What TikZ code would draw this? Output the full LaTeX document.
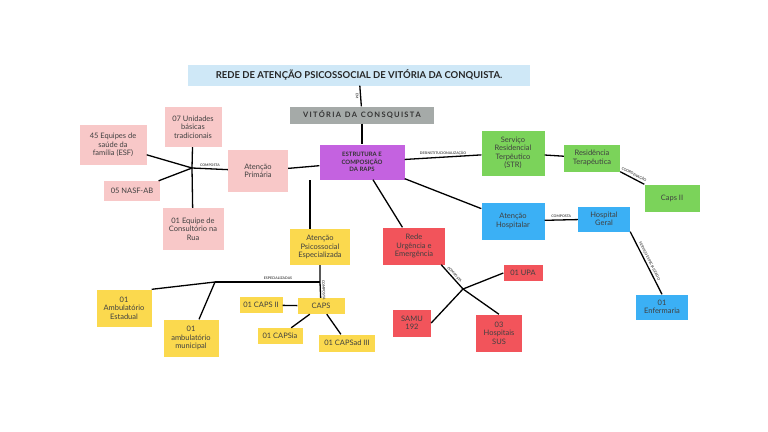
\documentclass[tikz,border=0pt]{standalone}
\usepackage{fontspec}
\setmainfont{Lato}
\begin{document}
\begin{tikzpicture}[x=1pt,y=-1pt,
 bx/.style={minimum width=#1, inner sep=1pt, align=center, font=\fontsize{7.5}{8.5}\selectfont, text=black!75},
 pk/.style={fill=pinkc},gr/.style={fill=greenc},bl/.style={fill=bluec},ye/.style={fill=yelc},rd/.style={fill=redc},
 ln/.style={line width=1.3pt},
 lab/.style={font=\fontsize{3.5}{4}\selectfont\bfseries, text=black!70, inner sep=1.5pt}]
\definecolor{pinkc}{HTML}{F8C8C8}\definecolor{greenc}{HTML}{7BD35A}\definecolor{bluec}{HTML}{3BB0F5}
\definecolor{yelc}{HTML}{FBD94E}\definecolor{redc}{HTML}{F2545B}\definecolor{purc}{HTML}{C462E0}
\definecolor{titc}{HTML}{CFE8F7}\definecolor{grayc}{HTML}{A5AAA8}
\useasboundingbox (0,0) rectangle (768,431);
\fill[white] (0,0) rectangle (768,431);
\node[bx=342pt, minimum height=21pt, fill=titc, font=\fontsize{9.5}{10}\selectfont\bfseries, text=black!85] (tit) at (359,75) {REDE DE ATENÇÃO PSICOSSOCIAL DE VITÓRIA DA CONQUISTA.};
\node[bx=144pt, minimum height=17pt, fill=grayc, font=\fontsize{7.5}{8}\selectfont\bfseries, text=black!80] (vit) at (362,115) {V\,I\,T\,Ó\,R\,I\,A\; D\,A\; C\,O\,N\,S\,Q\,U\,I\,S\,T\,A};
\node[bx=85pt, minimum height=35pt, fill=purc, font=\fontsize{6}{7.5}\selectfont\bfseries, text=black!80] (est) at (362,162) {ESTRUTURA E\\COMPOSIÇÃO\\DA RAPS};
\node[bx=60pt, minimum height=42pt, pk] (ap) at (258,171) {Atenção\\Primária};
\node[bx=57pt, minimum height=40pt, pk] (u07) at (193,127) {07 Unidades\\básicas\\tradicionais};
\node[bx=67pt, minimum height=40pt, pk] (e45) at (113,145) {45 Equipes de\\saúde da\\família (ESF)};
\node[bx=56pt, minimum height=20pt, pk] (nasf) at (132,191) {05 NASF-AB};
\node[bx=61pt, minimum height=42pt, pk] (cr) at (193,229) {01 Equipe de\\Consultório na\\Rua};
\coordinate (hp) at (192,168);
\node[bx=63pt, minimum height=45pt, gr] (str) at (513,153) {Serviço\\Residencial\\Terpêutico\\(STR)};
\node[bx=56pt, minimum height=27pt, gr] (res) at (592,158) {Residência\\Terapêutica};
\node[bx=55pt, minimum height=27pt, gr] (c2) at (672,198) {Caps II};
\node[bx=63pt, minimum height=37pt, bl] (ah) at (513,221) {Atenção\\Hospitalar};
\node[bx=52pt, minimum height=25pt, bl] (hg) at (604,219) {Hospital\\Geral};
\node[bx=52pt, minimum height=25pt, bl] (enf) at (662,307) {01\\Enfermaria};
\node[bx=60pt, minimum height=36pt, ye] (aps) at (320,247) {Atenção\\Psicossocial\\Especializada};
\node[bx=62pt, minimum height=37pt, rd] (rue) at (414,246) {Rede\\Urgência e\\Emergência};
\node[bx=39pt, minimum height=16pt, rd] (upa) at (523,273) {01 UPA};
\node[bx=38pt, minimum height=27pt, rd] (samu) at (412,323) {SAMU\\192};
\node[bx=46pt, minimum height=37pt, rd] (h03) at (499,333) {03\\Hospitais\\SUS};
\coordinate (hr) at (463,289);
\node[bx=47pt, minimum height=16pt, ye] (caps) at (321,306) {CAPS};
\node[bx=43pt, minimum height=16pt, ye] (c2b) at (261,305) {01 CAPS II};
\node[bx=45pt, minimum height=16pt, ye] (cia) at (280,336) {01 CAPSia};
\node[bx=56pt, minimum height=17pt, ye] (cad) at (347,343) {01 CAPSad III};
\node[bx=55pt, minimum height=37pt, ye] (ae) at (124,308) {01\\Ambulatório\\Estadual};
\node[bx=55pt, minimum height=37pt, ye] (am) at (191,338) {01\\ambulatório\\municipal};
\coordinate (j1) at (215,282);
\coordinate (j2) at (320,282);
\coordinate (ea) at (310,180);
\coordinate (eb) at (310,229);
% connectors
\draw[ln] (tit) -- node[lab, rotate=-90, anchor=north] {EM} (vit);
\draw[ln] (vit) -- (est);
\draw[ln] (est) -- (ap);
\draw[ln] (ap) -- node[lab, above] {COMPOSTA} (hp);
\draw[ln] (hp) -- (u07); \draw[ln] (hp) -- (cr); \draw[ln] (hp) -- (e45); \draw[ln] (hp) -- (nasf);
\draw[ln] (est) -- node[lab, above] {DESINSTITUCIONALIZAÇÃO} (str);
\draw[ln] (str) -- (res);
\draw[ln] (res.south east) -- node[lab, above, sloped] {COORDENAÇÃO} (c2.north west);
\draw[ln] (est) -- (ah);
\draw[ln] (ah) -- node[lab, above] {COMPOSTA} (hg);
\draw[ln] (hg.south east) -- node[lab, above, sloped] {SERVIÇO ESPECIALIZADO} (enf.north);
\draw[ln] (ea) -- (eb);
\draw[ln] (est) -- (rue);
\draw[ln] (rue.south east) ++(-4,0) -- node[lab, above, sloped] {COMPOSTA} (hr);
\draw[ln] (hr) -- (upa.west); \draw[ln] (hr) -- (samu.east); \draw[ln] (hr) -- (h03.north);
\draw[ln] (aps) -- (j2) -- node[lab, above, sloped] {COMPOSTA} (caps);
\draw[ln] (j2) -- node[lab, above, pos=0.4] {ESPECIALIZADAS} (j1);
\draw[ln] (j1) -- (ae.north east);
\draw[ln] (j1) -- (am);
\draw[ln] (caps) -- (c2b);
\draw[ln] (caps) -- (cia); \draw[ln] (caps) -- (cad);
\end{tikzpicture}
\end{document}
